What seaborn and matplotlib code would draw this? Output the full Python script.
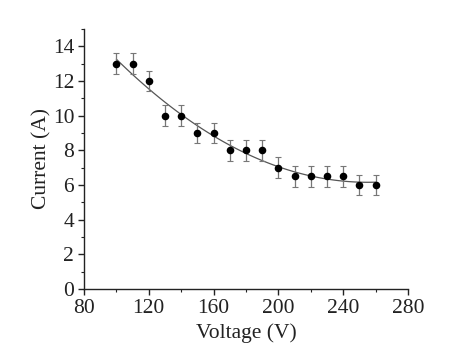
import matplotlib
matplotlib.use("Agg")
import matplotlib.pyplot as plt
import seaborn as sns
import pandas as pd
from matplotlib.ticker import MultipleLocator

voltage = [100, 110, 120, 130, 140, 150, 160, 170, 180, 190, 200, 210, 220, 230, 240, 250, 260]
current = [13, 13, 12, 10, 10, 9, 9, 8, 8, 8, 7, 6.5, 6.5, 6.5, 6.5, 6, 6]
error = [0.6] * len(voltage)

df = pd.DataFrame({"Voltage": voltage, "Current": current, "err": error})

sns.set_style("ticks")
plt.rcParams['font.family'] = ['Liberation Serif', 'DejaVu Serif']

fig = plt.figure(figsize=(4.74, 3.62), dpi=100)
ax = fig.add_axes([0.177, 0.2017, 0.684, 0.7183])

sns.regplot(data=df, x="Voltage", y="Current", order=2, ci=None, scatter=False,
            ax=ax, line_kws=dict(color="#555555", lw=0.9))
ax.errorbar(df["Voltage"], df["Current"], yerr=df["err"], fmt="none",
            ecolor="#777777", elinewidth=0.9, capsize=2.5, capthick=0.8, zorder=3)
sns.scatterplot(data=df, x="Voltage", y="Current", ax=ax, color="black",
                s=30, edgecolor="black", linewidth=0, zorder=4)

ax.set_xlim(80, 280)
ax.set_ylim(0, 15)
ax.set_xticks(range(80, 281, 40))
ax.set_yticks(range(0, 15, 2))
ax.xaxis.set_minor_locator(MultipleLocator(20))
ax.yaxis.set_minor_locator(MultipleLocator(1))
ax.tick_params(which="major", direction="out", length=4, width=1, labelsize=15.5, colors="#222222", pad=3)
ax.tick_params(which="minor", direction="out", length=2.5, width=0.8, colors="#222222")
for s in ["left", "bottom"]:
    ax.spines[s].set_linewidth(1.0)
    ax.spines[s].set_color("#222222")
sns.despine(ax=ax)
ax.set_xlabel("Voltage (V)", fontsize=15.5, color="#222222", labelpad=4)
ax.set_ylabel("Current (A)", fontsize=15.5, color="#222222", labelpad=1)

fig.savefig("out.png", dpi=100)
